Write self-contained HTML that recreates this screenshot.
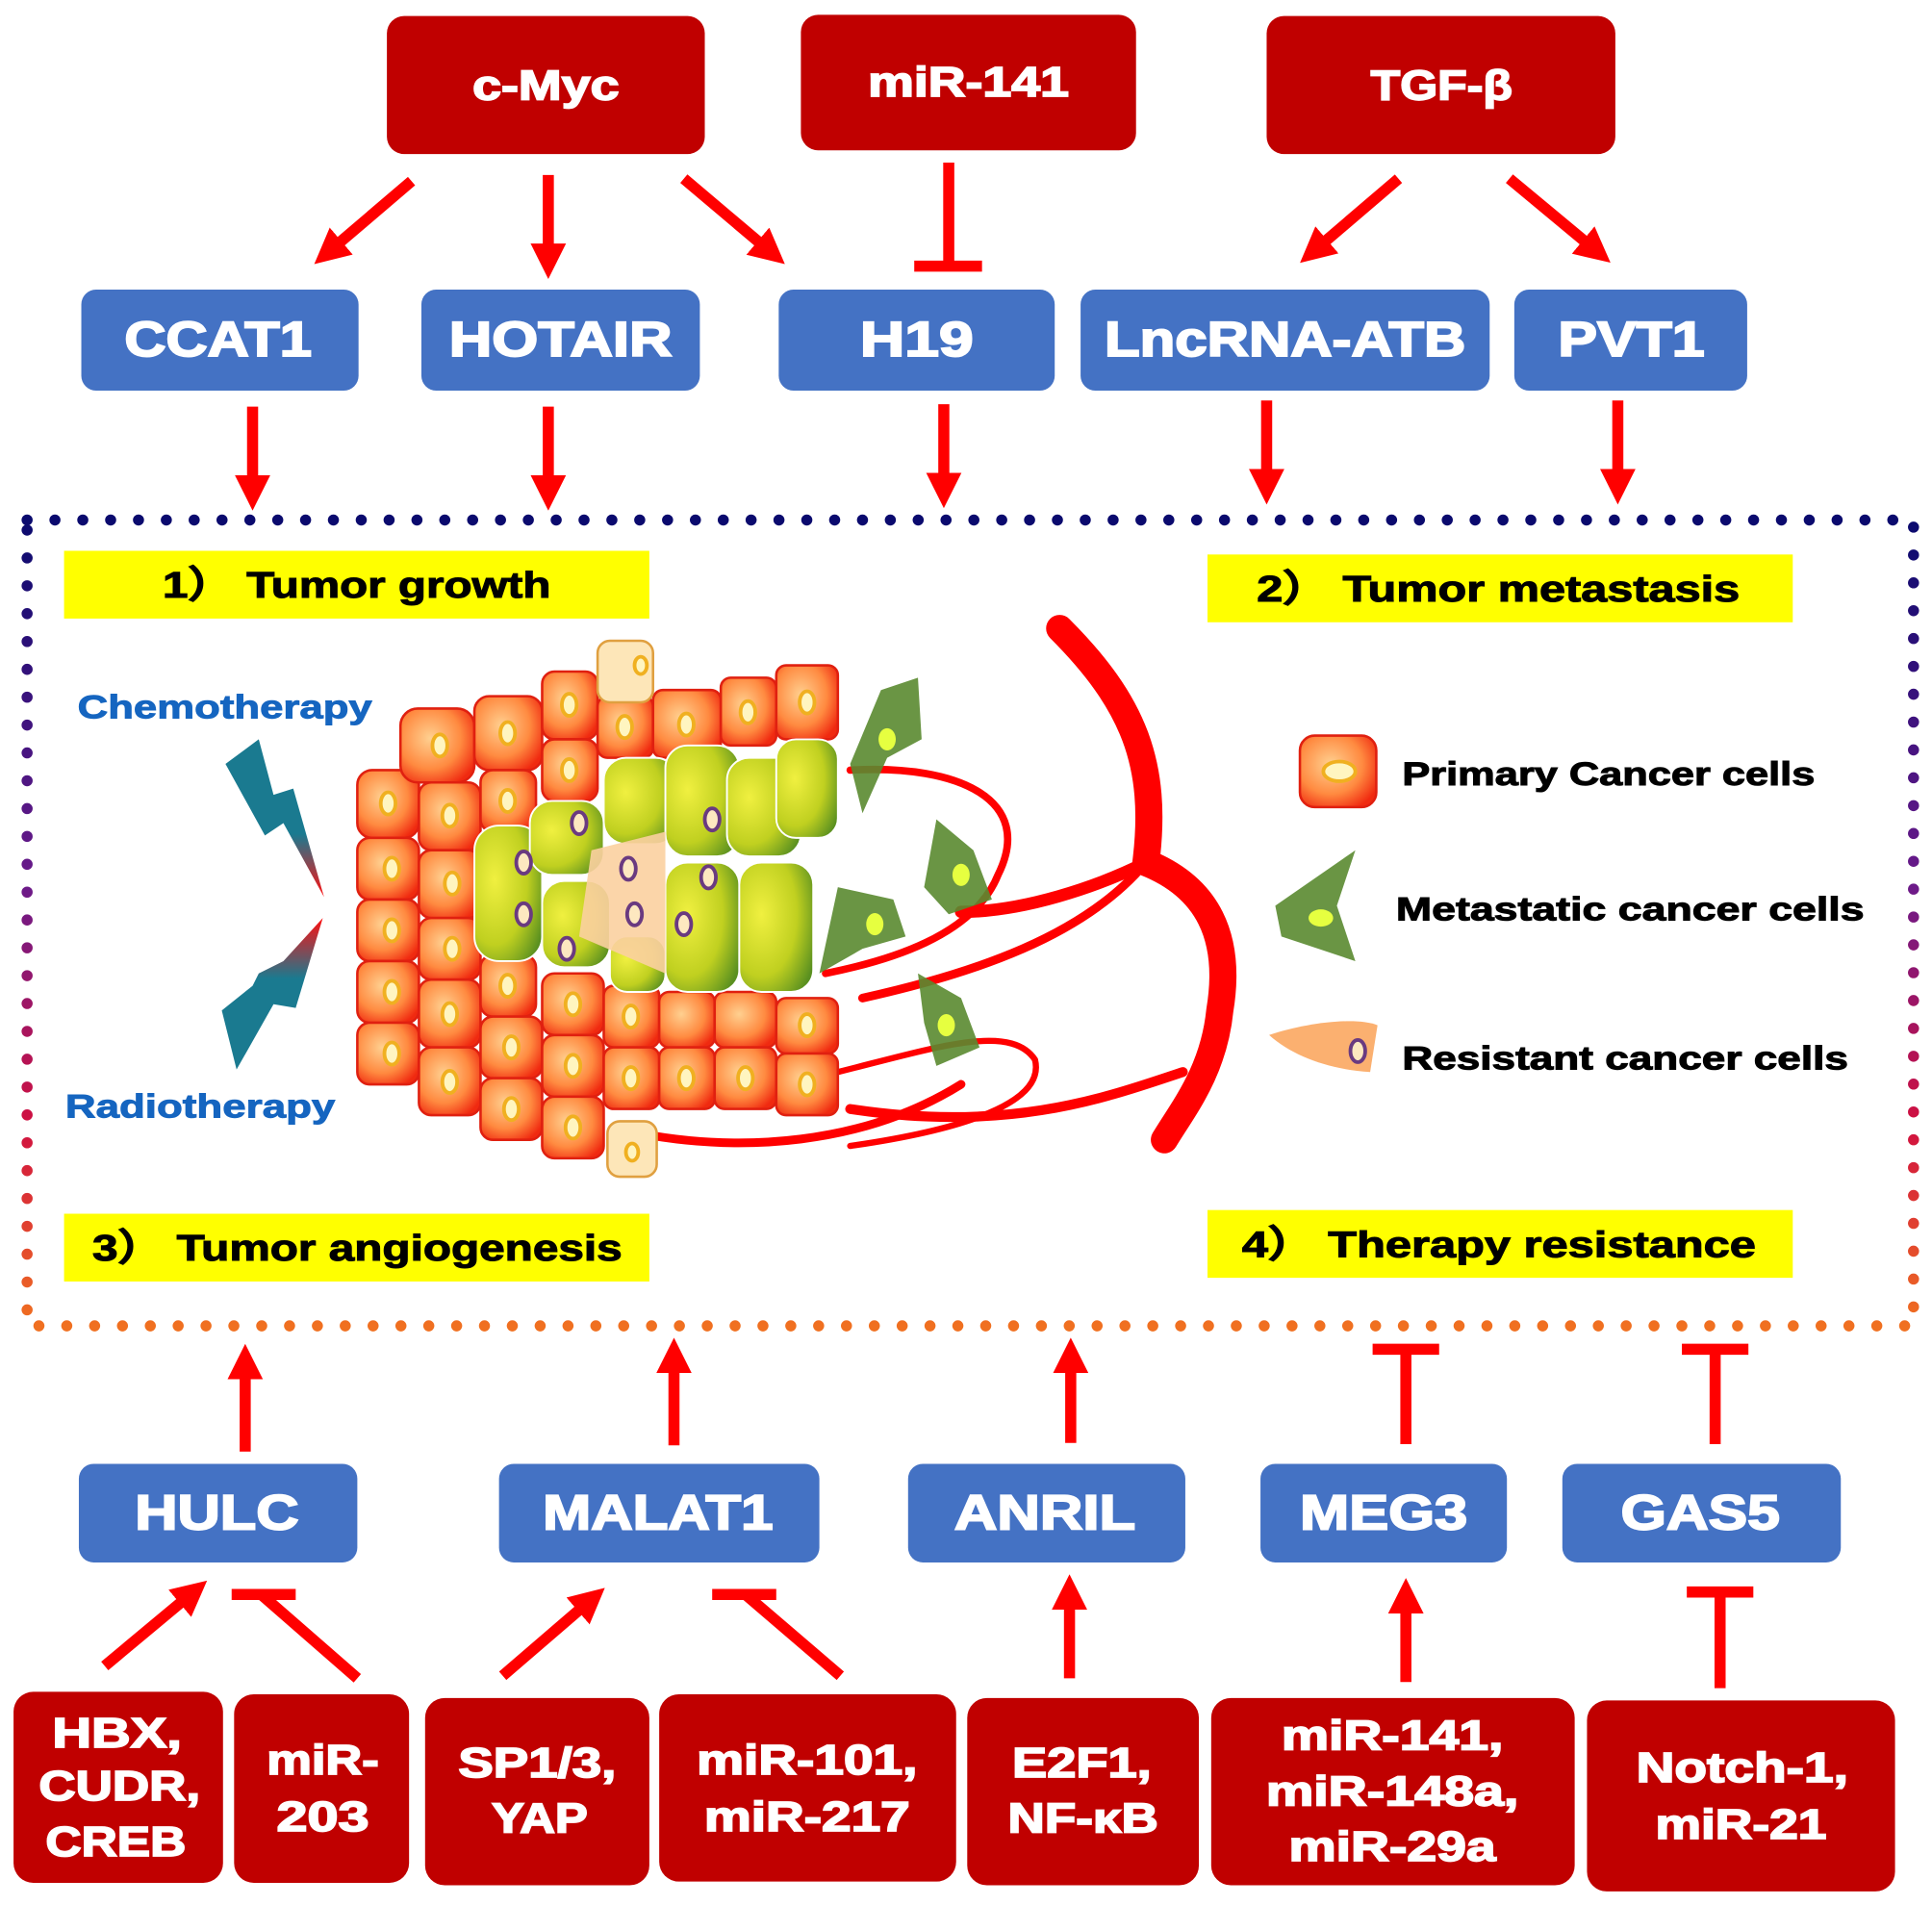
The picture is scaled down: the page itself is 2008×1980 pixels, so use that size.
<!DOCTYPE html>
<html><head><meta charset="utf-8"><style>
html,body{margin:0;padding:0;background:#fff}
svg{display:block}
text{font-family:"Liberation Sans",Arial,sans-serif;font-weight:bold}
</style></head><body>
<svg width="2008" height="1980" viewBox="0 0 1568 1546" preserveAspectRatio="none" xmlns="http://www.w3.org/2000/svg">
<defs>
<linearGradient id="dots" x1="0" y1="0" x2="0" y2="1">
<stop offset="0" stop-color="#0a0a6e"/><stop offset="0.45" stop-color="#6a1a8a"/><stop offset="0.75" stop-color="#d01040"/><stop offset="1" stop-color="#f07020"/></linearGradient>
<radialGradient id="oc" cx="0.4" cy="0.4" r="0.7"><stop offset="0" stop-color="#ffd090"/><stop offset="0.6" stop-color="#ff8a40"/><stop offset="1" stop-color="#f02a10"/></radialGradient>
<radialGradient id="gc" cx="0.3" cy="0.4" r="0.8"><stop offset="0" stop-color="#f0f040"/><stop offset="0.6" stop-color="#c0d020"/><stop offset="1" stop-color="#5a9020"/></radialGradient>
<linearGradient id="bolt1" x1="0" y1="0" x2="0" y2="1"><stop offset="0" stop-color="#1a7a90"/><stop offset="0.6" stop-color="#1a7a90"/><stop offset="1" stop-color="#ff1010"/></linearGradient>
<linearGradient id="bolt2" x1="0" y1="1" x2="0" y2="0"><stop offset="0" stop-color="#1a7a90"/><stop offset="0.6" stop-color="#1a7a90"/><stop offset="1" stop-color="#ff1010"/></linearGradient>
<marker id="ah" viewBox="0 0 10 10" refX="5" refY="5" markerWidth="3.2" markerHeight="3.2" orient="auto"><path d="M0,0 L10,5 L0,10 z" fill="#f00"/></marker>
</defs>

<g fill="#c00000">
<rect x="314" y="13" width="258" height="112" rx="14"/>
<rect x="650" y="12" width="272" height="110" rx="14"/>
<rect x="1028" y="13" width="283" height="112" rx="14"/>
<rect x="11" y="1373" width="170" height="155" rx="16"/>
<rect x="190" y="1375" width="142" height="153" rx="16"/>
<rect x="345" y="1378" width="182" height="152" rx="16"/>
<rect x="535" y="1375" width="241" height="152" rx="16"/>
<rect x="785" y="1378" width="188" height="152" rx="16"/>
<rect x="983" y="1378" width="295" height="152" rx="16"/>
<rect x="1288" y="1380" width="250" height="155" rx="16"/>
</g>
<g fill="#fff" stroke="#fff" stroke-width="1.3" font-size="34" text-anchor="middle" lengthAdjust="spacingAndGlyphs">
<text x="443" y="81" textLength="119" lengthAdjust="spacingAndGlyphs">c-Myc</text>
<text x="786" y="78" textLength="163" lengthAdjust="spacingAndGlyphs">miR-141</text>
<text x="1170" y="81" textLength="115" lengthAdjust="spacingAndGlyphs">TGF-β</text>
<text x="95" y="1418" textLength="105" lengthAdjust="spacingAndGlyphs">HBX,</text><text x="97" y="1461" textLength="131" lengthAdjust="spacingAndGlyphs">CUDR,</text><text x="94" y="1506" textLength="114" lengthAdjust="spacingAndGlyphs">CREB</text>
<text x="262" y="1440" textLength="91" lengthAdjust="spacingAndGlyphs">miR-</text><text x="262" y="1486" textLength="75" lengthAdjust="spacingAndGlyphs">203</text>
<text x="436" y="1442" textLength="128" lengthAdjust="spacingAndGlyphs">SP1/3,</text><text x="438" y="1487" textLength="78" lengthAdjust="spacingAndGlyphs">YAP</text>
<text x="655" y="1440" textLength="179" lengthAdjust="spacingAndGlyphs">miR-101,</text><text x="655" y="1486" textLength="167" lengthAdjust="spacingAndGlyphs">miR-217</text>
<text x="878" y="1442" textLength="113" lengthAdjust="spacingAndGlyphs">E2F1,</text><text x="879" y="1487" textLength="122" lengthAdjust="spacingAndGlyphs">NF-κB</text>
<text x="1130" y="1420" textLength="180" lengthAdjust="spacingAndGlyphs">miR-141,</text><text x="1130" y="1465" textLength="205" lengthAdjust="spacingAndGlyphs">miR-148a,</text><text x="1130" y="1510" textLength="168" lengthAdjust="spacingAndGlyphs">miR-29a</text>
<text x="1414" y="1446" textLength="172" lengthAdjust="spacingAndGlyphs">Notch-1,</text><text x="1413" y="1492" textLength="139" lengthAdjust="spacingAndGlyphs">miR-21</text>
</g>

<g fill="#4472c4">
<rect x="66" y="235" width="225" height="82" rx="12"/>
<rect x="342" y="235" width="226" height="82" rx="12"/>
<rect x="632" y="235" width="224" height="82" rx="12"/>
<rect x="877" y="235" width="332" height="82" rx="12"/>
<rect x="1229" y="235" width="189" height="82" rx="12"/>
<rect x="64" y="1188" width="226" height="80" rx="12"/>
<rect x="405" y="1188" width="260" height="80" rx="12"/>
<rect x="737" y="1188" width="225" height="80" rx="12"/>
<rect x="1023" y="1188" width="200" height="80" rx="12"/>
<rect x="1268" y="1188" width="226" height="80" rx="12"/>
</g>
<g fill="#fff" stroke="#fff" stroke-width="1.5" font-size="40" text-anchor="middle">
<text x="177" y="289" textLength="152" lengthAdjust="spacingAndGlyphs">CCAT1</text>
<text x="455" y="289" textLength="181" lengthAdjust="spacingAndGlyphs">HOTAIR</text>
<text x="744" y="289" textLength="92" lengthAdjust="spacingAndGlyphs">H19</text>
<text x="1043" y="289" textLength="293" lengthAdjust="spacingAndGlyphs">LncRNA-ATB</text>
<text x="1324" y="289" textLength="119" lengthAdjust="spacingAndGlyphs">PVT1</text>
<text x="176" y="1241" textLength="133" lengthAdjust="spacingAndGlyphs">HULC</text>
<text x="534" y="1241" textLength="187" lengthAdjust="spacingAndGlyphs">MALAT1</text>
<text x="848" y="1241" textLength="147" lengthAdjust="spacingAndGlyphs">ANRIL</text>
<text x="1123" y="1241" textLength="136" lengthAdjust="spacingAndGlyphs">MEG3</text>
<text x="1380" y="1241" textLength="129" lengthAdjust="spacingAndGlyphs">GAS5</text>
</g>

<g stroke="#f00" stroke-width="9" fill="none" marker-end="url(#ah)">
<line x1="334" y1="147" x2="266" y2="205"/>
<line x1="445" y1="142" x2="445" y2="212"/>
<line x1="555" y1="145" x2="626" y2="205"/>
<line x1="1135" y1="145" x2="1066" y2="204"/>
<line x1="1225" y1="145" x2="1296" y2="204"/>
<line x1="205" y1="330" x2="205" y2="400"/>
<line x1="445" y1="330" x2="445" y2="400"/>
<line x1="766" y1="328" x2="766" y2="398"/>
<line x1="1028" y1="325" x2="1028" y2="395"/>
<line x1="1313" y1="325" x2="1313" y2="395"/>
<line x1="199" y1="1178" x2="199" y2="1105"/>
<line x1="547" y1="1173" x2="547" y2="1100"/>
<line x1="869" y1="1171" x2="869" y2="1100"/>
<line x1="85" y1="1352" x2="157" y2="1292"/>
<line x1="408" y1="1360" x2="480" y2="1298"/>
<line x1="868" y1="1362" x2="868" y2="1292"/>
<line x1="1141" y1="1365" x2="1141" y2="1295"/>
</g>
<g stroke="#f00" stroke-width="9" fill="none">
<line x1="770" y1="132" x2="770" y2="216"/><line x1="742" y1="216" x2="797" y2="216"/>
<line x1="1141" y1="1172" x2="1141" y2="1095"/><line x1="1114" y1="1095" x2="1168" y2="1095"/>
<line x1="1392" y1="1172" x2="1392" y2="1095"/><line x1="1365" y1="1095" x2="1419" y2="1095"/>
<line x1="290" y1="1362" x2="212" y2="1294"/><line x1="188" y1="1294" x2="240" y2="1294"/>
<line x1="682" y1="1360" x2="605" y2="1294"/><line x1="578" y1="1294" x2="630" y2="1294"/>
<line x1="1396" y1="1370" x2="1396" y2="1292"/><line x1="1369" y1="1292" x2="1423" y2="1292"/>
</g>

<rect x="22" y="422" width="1531" height="654" fill="none" stroke="url(#dots)" stroke-width="9" stroke-linecap="round" stroke-dasharray="0 22.6"/>

<g fill="#ffff00">
<rect x="52" y="447" width="475" height="55"/>
<rect x="980" y="450" width="475" height="55"/>
<rect x="52" y="985" width="475" height="55"/>
<rect x="980" y="982" width="475" height="55"/>
</g>
<g font-size="30" fill="#000" stroke="#000" stroke-width="0.8">
<text x="132" y="485" textLength="315" lengthAdjust="spacingAndGlyphs">1） Tumor growth</text>
<text x="1020" y="488" textLength="392" lengthAdjust="spacingAndGlyphs">2） Tumor metastasis</text>
<text x="75" y="1023" textLength="430" lengthAdjust="spacingAndGlyphs">3） Tumor angiogenesis</text>
<text x="1008" y="1020" textLength="417" lengthAdjust="spacingAndGlyphs">4） Therapy resistance</text>
<text x="1138" y="637" font-size="27" textLength="335" lengthAdjust="spacingAndGlyphs">Primary Cancer cells</text>
<text x="1133" y="747" font-size="27" textLength="380" lengthAdjust="spacingAndGlyphs">Metastatic cancer cells</text>
<text x="1138" y="868" font-size="27" textLength="362" lengthAdjust="spacingAndGlyphs">Resistant cancer cells</text>
</g>
<g font-size="27" fill="#1565c0" stroke="#1565c0" stroke-width="0.7">
<text x="63" y="583" textLength="239" lengthAdjust="spacingAndGlyphs">Chemotherapy</text>
<text x="53" y="907" textLength="219" lengthAdjust="spacingAndGlyphs">Radiotherapy</text>
</g>

<path d="M183,620 L210,600 L222,645 L238,640 L263,728 L230,668 L215,678 Z" fill="url(#bolt1)"/>
<path d="M180,820 L205,800 L210,790 L230,780 L262,745 L240,818 L222,815 L192,868 Z" fill="url(#bolt2)"/>

<g stroke="#f00" fill="none" stroke-linecap="round">
<path d="M860,510 C920,570 940,620 930,700 C980,720 1000,760 990,820 C985,870 960,900 945,925" stroke-width="22"/>
<path d="M930,700 C890,720 830,740 780,740" stroke-width="10"/>
<path d="M690,625 C780,620 840,650 810,710 C790,760 720,780 670,790" stroke-width="6"/>
<path d="M930,700 C880,760 790,790 700,810" stroke-width="7"/>
<path d="M960,870 C900,890 820,920 690,900" stroke-width="8"/>
<path d="M680,870 C760,850 820,830 840,860 C850,900 760,920 690,930" stroke-width="5"/>
<path d="M520,920 C600,935 700,930 780,880" stroke-width="7"/>
</g>

<g stroke="#e02010" stroke-width="2" fill="url(#oc)">
<rect x="290" y="625" width="50" height="55" rx="12"/><rect x="290" y="680" width="50" height="50" rx="10"/><rect x="290" y="730" width="50" height="50" rx="10"/><rect x="290" y="780" width="50" height="50" rx="10"/><rect x="290" y="830" width="50" height="50" rx="10"/>
<rect x="325" y="575" width="60" height="60" rx="14"/><rect x="340" y="635" width="50" height="55" rx="10"/><rect x="340" y="690" width="50" height="55" rx="10"/><rect x="340" y="745" width="50" height="50" rx="10"/><rect x="340" y="795" width="50" height="55" rx="10"/><rect x="340" y="850" width="50" height="55" rx="10"/>
<rect x="385" y="565" width="55" height="60" rx="12"/><rect x="390" y="625" width="45" height="50" rx="10"/><rect x="390" y="775" width="45" height="50" rx="10"/><rect x="390" y="825" width="50" height="50" rx="10"/><rect x="390" y="875" width="50" height="50" rx="10"/>
<rect x="440" y="545" width="45" height="55" rx="10"/><rect x="440" y="600" width="45" height="50" rx="10"/><rect x="440" y="790" width="50" height="50" rx="10"/><rect x="440" y="840" width="50" height="50" rx="10"/><rect x="440" y="890" width="50" height="50" rx="10"/>
<rect x="485" y="565" width="45" height="50" rx="8"/><rect x="530" y="560" width="55" height="55" rx="8"/><rect x="585" y="550" width="45" height="55" rx="8"/><rect x="630" y="540" width="50" height="60" rx="8"/>
<rect x="490" y="800" width="45" height="50" rx="8"/><rect x="490" y="850" width="45" height="50" rx="8"/><rect x="535" y="805" width="45" height="45" rx="8"/><rect x="535" y="850" width="45" height="50" rx="8"/><rect x="580" y="805" width="50" height="45" rx="8"/><rect x="580" y="850" width="50" height="50" rx="8"/><rect x="630" y="810" width="50" height="45" rx="8"/><rect x="630" y="855" width="50" height="50" rx="8"/>
</g>
<rect x="485" y="520" width="45" height="50" rx="10" fill="#fde6b8" stroke="#e0a040" stroke-width="2"/>
<rect x="493" y="910" width="40" height="45" rx="10" fill="#fde6b8" stroke="#e0a040" stroke-width="2"/>
<g stroke="#fff" stroke-width="1.5" fill="url(#gc)">
<rect x="385" y="670" width="55" height="110" rx="20"/>
<rect x="430" y="650" width="60" height="60" rx="18"/>
<rect x="440" y="715" width="55" height="70" rx="18"/>
<rect x="490" y="615" width="60" height="70" rx="18"/>
<rect x="540" y="605" width="60" height="90" rx="18"/>
<rect x="590" y="615" width="60" height="80" rx="18"/>
<rect x="495" y="760" width="45" height="45" rx="14"/>
<rect x="540" y="700" width="60" height="105" rx="18"/>
<rect x="600" y="700" width="60" height="105" rx="18"/>
<rect x="630" y="600" width="50" height="80" rx="16"/>
</g>
<path d="M480,690 L540,675 L540,790 L470,760 Z" fill="#fbd0a0" opacity="0.9"/>
<g fill="#5a8a30" opacity="0.9">
<path d="M715,560 L745,550 L748,600 L720,615 L700,660 L690,620 Z"/>
<path d="M760,665 L790,690 L805,730 L770,742 L750,720 Z"/>
<path d="M745,790 L780,810 L795,850 L760,865 L750,830 Z"/>
<path d="M680,720 L725,730 L735,760 L700,770 L665,790 Z"/>
<path d="M1100,690 L1085,735 L1100,780 L1070,770 L1040,760 L1035,735 Z"/>
</g>
<g fill="#e6ff40">
<ellipse cx="720" cy="600" rx="7" ry="9"/><ellipse cx="780" cy="710" rx="7" ry="9"/><ellipse cx="768" cy="832" rx="7" ry="9"/><ellipse cx="710" cy="750" rx="7" ry="9"/><ellipse cx="1072" cy="745" rx="10" ry="7"/>
</g>
<g fill="#fff5c0" stroke="#f0b020" stroke-width="3">
<ellipse cx="315" cy="652" rx="6" ry="9"/><ellipse cx="318" cy="705" rx="6" ry="9"/><ellipse cx="318" cy="755" rx="6" ry="9"/><ellipse cx="318" cy="805" rx="6" ry="9"/><ellipse cx="318" cy="855" rx="6" ry="9"/>
<ellipse cx="357" cy="605" rx="6" ry="9"/><ellipse cx="365" cy="662" rx="6" ry="9"/><ellipse cx="367" cy="717" rx="6" ry="9"/><ellipse cx="367" cy="770" rx="6" ry="9"/><ellipse cx="365" cy="823" rx="6" ry="9"/><ellipse cx="365" cy="878" rx="6" ry="9"/>
<ellipse cx="412" cy="595" rx="6" ry="9"/><ellipse cx="412" cy="650" rx="6" ry="9"/><ellipse cx="412" cy="800" rx="6" ry="9"/><ellipse cx="415" cy="850" rx="6" ry="9"/><ellipse cx="415" cy="900" rx="6" ry="9"/>
<ellipse cx="462" cy="572" rx="6" ry="9"/><ellipse cx="462" cy="625" rx="6" ry="9"/><ellipse cx="465" cy="815" rx="6" ry="9"/><ellipse cx="465" cy="865" rx="6" ry="9"/><ellipse cx="465" cy="915" rx="6" ry="9"/>
<ellipse cx="507" cy="590" rx="6" ry="9"/><ellipse cx="557" cy="588" rx="6" ry="9"/><ellipse cx="607" cy="578" rx="6" ry="9"/><ellipse cx="655" cy="570" rx="6" ry="9"/>
<ellipse cx="512" cy="825" rx="6" ry="9"/><ellipse cx="512" cy="875" rx="6" ry="9"/><ellipse cx="557" cy="875" rx="6" ry="9"/><ellipse cx="605" cy="875" rx="6" ry="9"/><ellipse cx="655" cy="880" rx="6" ry="9"/><ellipse cx="655" cy="832" rx="6" ry="9"/>
<ellipse cx="520" cy="540" rx="5" ry="7"/><ellipse cx="513" cy="935" rx="5" ry="7"/>
</g>
<g fill="#fde8c0" stroke="#6a3a80" stroke-width="3">
<ellipse cx="470" cy="668" rx="6" ry="9"/><ellipse cx="425" cy="700" rx="6" ry="9"/><ellipse cx="425" cy="742" rx="6" ry="9"/><ellipse cx="460" cy="770" rx="6" ry="9"/><ellipse cx="510" cy="705" rx="6" ry="9"/><ellipse cx="515" cy="742" rx="6" ry="9"/><ellipse cx="575" cy="712" rx="6" ry="9"/><ellipse cx="578" cy="665" rx="6" ry="9"/><ellipse cx="555" cy="750" rx="6" ry="9"/>
</g>

<rect x="1055" y="597" width="62" height="58" rx="12" fill="url(#oc)" stroke="#e02010" stroke-width="2"/>
<ellipse cx="1087" cy="626" rx="13" ry="8" fill="#fff5c0" stroke="#f0b020" stroke-width="3"/>
<path d="M1030,840 C1060,830 1100,825 1118,832 L1112,870 C1080,868 1050,858 1030,840 Z" fill="#fbb070"/>
<ellipse cx="1102" cy="853" rx="6" ry="9" fill="#fde8c0" stroke="#6a3a80" stroke-width="3"/>
</svg>
</body></html>
